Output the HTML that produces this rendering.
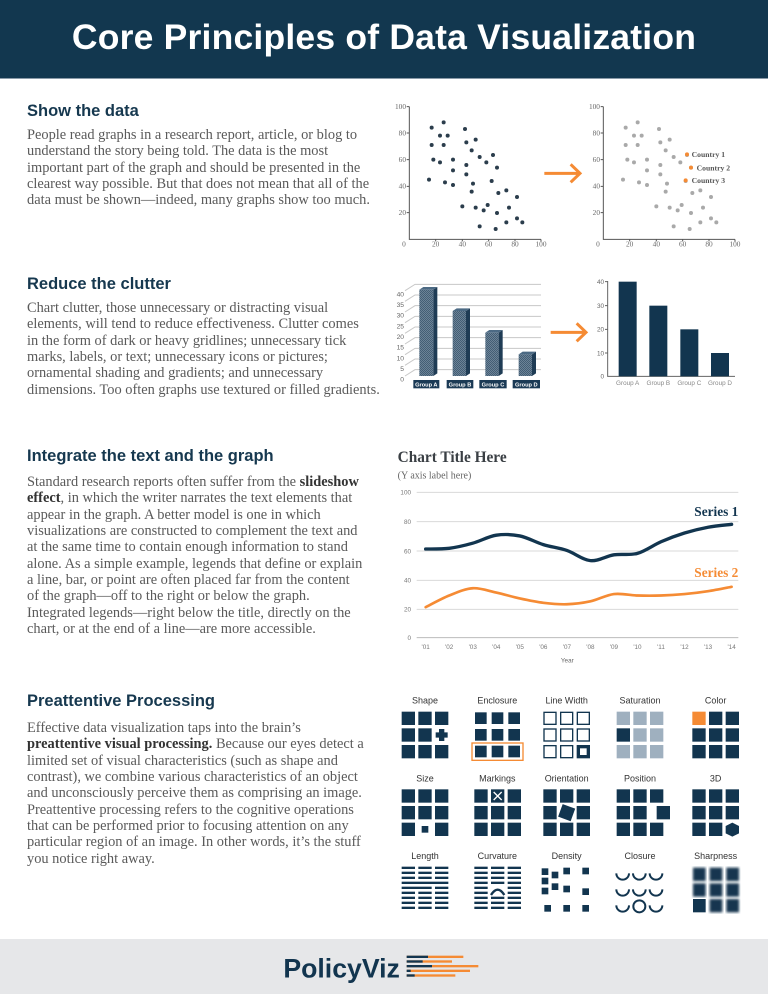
<!DOCTYPE html>
<html><head><meta charset="utf-8">
<style>
*{margin:0;padding:0;box-sizing:border-box}
body{width:768px;height:994px;position:relative;background:#fff;overflow:hidden;font-family:"Liberation Sans",sans-serif}
#hdr{position:absolute;left:0;top:0;width:768px;height:79px;background:#12374f;border-bottom:1px solid #8a9aa8}
#hdr div{position:absolute;left:0;width:768px;top:17px;text-align:center;color:#fff;font-weight:bold;font-size:35.5px;letter-spacing:0.2px}
.h{position:absolute;left:27px;color:#16384f;font-weight:bold;font-size:16.5px;white-space:nowrap}
.p{position:absolute;left:27px;color:#5a5a5a;font-family:"Liberation Serif",serif;font-size:14.4px;line-height:16.35px;white-space:nowrap}
.p b{color:#333}
#ftr{position:absolute;left:0;top:939px;width:768px;height:55px;background:#e6e7e9}
svg{position:absolute;left:0;top:0}
</style></head><body>
<div id="hdr"><div>Core Principles of Data Visualization</div></div>

<div class="h" style="top:102px">Show the data</div>
<div class="p" style="top:127px">People read graphs in a research report, article, or blog to<br>understand the story being told. The data is the most<br>important part of the graph and should be presented in the<br>clearest way possible. But that does not mean that all of the<br>data must be shown—indeed, many graphs show too much.</div>

<div class="h" style="top:275px">Reduce the clutter</div>
<div class="p" style="top:300px">Chart clutter, those unnecessary or distracting visual<br>elements, will tend to reduce effectiveness. Clutter comes<br>in the form of dark or heavy gridlines; unnecessary tick<br>marks, labels, or text; unnecessary icons or pictures;<br>ornamental shading and gradients; and unnecessary<br>dimensions. Too often graphs use textured or filled gradients.</div>

<div class="h" style="top:447px">Integrate the text and the graph</div>
<div class="p" style="top:474px">Standard research reports often suffer from the <b>slideshow</b><br><b>effect</b>, in which the writer narrates the text elements that<br>appear in the graph. A better model is one in which<br>visualizations are constructed to complement the text and<br>at the same time to contain enough information to stand<br>alone. As a simple example, legends that define or explain<br>a line, bar, or point are often placed far from the content<br>of the graph—off to the right or below the graph.<br>Integrated legends—right below the title, directly on the<br>chart, or at the end of a line—are more accessible.</div>

<div class="h" style="top:692px">Preattentive Processing</div>
<div class="p" style="top:720px">Effective data visualization taps into the brain’s<br><b>preattentive visual processing.</b> Because our eyes detect a<br>limited set of visual characteristics (such as shape and<br>contrast), we combine various characteristics of an object<br>and unconsciously perceive them as comprising an image.<br>Preattentive processing refers to the cognitive operations<br>that can be performed prior to focusing attention on any<br>particular region of an image. In other words, it’s the stuff<br>you notice right away.</div>

<div id="ftr"></div>

<svg width="768" height="994" viewBox="0 0 768 994">
<defs>
<pattern id="hat" width="6" height="6" patternUnits="userSpaceOnUse"><rect width="6" height="6" fill="#7f93a5"/><path d="M0,6L6,0M-1,1L1,-1M5,7L7,5" stroke="#2d4a63" stroke-width="2"/></pattern>
<filter id="bl"><feGaussianBlur stdDeviation="4"/></filter>
</defs>

<g transform="translate(380,95) scale(0.33333)" font-family="Liberation Serif,serif" font-size="22" fill="#666">
 <g>
  <path d="M88,35V433H483" fill="none" stroke="#555" stroke-width="3"/>
  <path d="M80,35H88M80,114H88M80,194H88M80,274H88M80,353H88M167,433v6M247,433v6M326,433v6M405,433v6M483,433v6" stroke="#555" stroke-width="3"/>
 </g>
 <g text-anchor="end"><text x="78" y="42">100</text><text x="78" y="121">80</text><text x="78" y="201">60</text><text x="78" y="281">40</text><text x="78" y="360">20</text></g>
 <g text-anchor="middle"><text x="72" y="455">0</text><text x="167" y="455">20</text><text x="247" y="455">40</text><text x="326" y="455">60</text><text x="405" y="455">80</text><text x="483" y="455">100</text></g>
 <g transform="translate(582,0)">
  <path d="M88,35V433H483" fill="none" stroke="#555" stroke-width="3"/>
  <path d="M80,35H88M80,114H88M80,194H88M80,274H88M80,353H88M167,433v6M247,433v6M326,433v6M405,433v6M483,433v6" stroke="#555" stroke-width="3"/>
  <g text-anchor="end"><text x="78" y="42">100</text><text x="78" y="121">80</text><text x="78" y="201">60</text><text x="78" y="281">40</text><text x="78" y="360">20</text></g>
  <g text-anchor="middle"><text x="72" y="455">0</text><text x="167" y="455">20</text><text x="247" y="455">40</text><text x="326" y="455">60</text><text x="405" y="455">80</text><text x="483" y="455">100</text></g>
 </g>
 <g id="pts1" fill="#2b3d4c"></g>
 <g id="pts2" fill="#a9a9a9"></g>
 <path d="M493,235H600M572,208L600,235L572,262" fill="none" stroke="#f58b34" stroke-width="9"/>
 <g fill="#f58b34"><circle cx="921" cy="178" r="6"/><circle cx="933" cy="218" r="6"/><circle cx="917" cy="256" r="6"/></g>
 <g font-weight="bold" font-size="23" fill="#555"><text x="935" y="186">Country 1</text><text x="950" y="226">Country 2</text><text x="935" y="264">Country 3</text></g>
</g>

<g transform="translate(380,275) scale(0.33333)" font-family="Liberation Sans,sans-serif">
 <g stroke="#c8c8c8" stroke-width="3" fill="none">
  <path d="M75,303L105,284H483M75,271L105,252H483M75,239L105,220H483M75,207L105,188H483M75,175L105,156H483M75,143L105,124H483M75,111L105,92H483M75,79L105,60H483M75,47L105,28H483"/>
 </g>
 <g font-size="20" fill="#666" text-anchor="end"><text x="72" y="320">0</text><text x="72" y="288">5</text><text x="72" y="256">10</text><text x="72" y="224">15</text><text x="72" y="192">20</text><text x="72" y="160">25</text><text x="72" y="128">30</text><text x="72" y="96">35</text><text x="72" y="64">40</text></g>
 <g>
  <rect x="118" y="44" width="42" height="259" fill="url(#hat)"/><path d="M160,44l12,-8v259l-12,8z" fill="#1f3c55"/><path d="M118,44l12,-8h42l-12,8z" fill="#4c6a84"/>
  <rect x="218" y="108" width="40" height="195" fill="url(#hat)"/><path d="M258,108l12,-8v195l-12,8z" fill="#1f3c55"/><path d="M218,108l12,-8h40l-12,8z" fill="#4c6a84"/>
  <rect x="316" y="173" width="40" height="130" fill="url(#hat)"/><path d="M356,173l12,-8v130l-12,8z" fill="#1f3c55"/><path d="M316,173l12,-8h40l-12,8z" fill="#4c6a84"/>
  <rect x="416" y="238" width="40" height="65" fill="url(#hat)"/><path d="M456,238l12,-8v65l-12,8z" fill="#1f3c55"/><path d="M416,238l12,-8h40l-12,8z" fill="#4c6a84"/>
 </g>
 <g fill="#1b3a55"><rect x="100" y="315" width="78" height="25"/><rect x="200" y="315" width="80" height="25"/><rect x="298" y="315" width="82" height="25"/><rect x="398" y="315" width="82" height="25"/></g>
 <g fill="#fff" font-size="17" font-weight="bold" text-anchor="middle"><text x="139" y="334">Group A</text><text x="240" y="334">Group B</text><text x="339" y="334">Group C</text><text x="439" y="334">Group D</text></g>
 <path d="M512,172H618M590,145L618,172L590,199" fill="none" stroke="#f58b34" stroke-width="9"/>
 <path d="M683,18V304H1065" fill="none" stroke="#666" stroke-width="3"/>
 <path d="M675,20H683M675,92H683M675,163H683M675,234H683" stroke="#666" stroke-width="3"/>
 <g font-size="19" fill="#666" text-anchor="end"><text x="672" y="27">40</text><text x="672" y="99">30</text><text x="672" y="170">20</text><text x="672" y="241">10</text><text x="672" y="311">0</text></g>
 <g fill="#12354f"><rect x="716" y="20" width="54" height="284"/><rect x="808" y="92" width="54" height="212"/><rect x="901" y="163" width="54" height="141"/><rect x="993" y="234" width="54" height="70"/></g>
 <g font-size="19" fill="#888" text-anchor="middle"><text x="743" y="330">Group A</text><text x="835" y="330">Group B</text><text x="928" y="330">Group C</text><text x="1020" y="330">Group D</text></g>
</g>

<g transform="translate(385,440) scale(0.33333)">
 <text x="38" y="66" font-family="Liberation Serif,serif" font-weight="bold" font-size="46" fill="#3a3f44">Chart Title Here</text>
 <text x="38" y="116" font-family="Liberation Serif,serif" font-size="30" fill="#666">(Y axis label here)</text>
 <g stroke="#d9d9d9" stroke-width="3"><path d="M95,157H1060M95,245H1060M95,333H1060M95,421H1060M95,508H1060"/></g>
 <path d="M95,593H1060" stroke="#bbb" stroke-width="3"/>
 <g font-family="Liberation Sans,sans-serif" font-size="19" fill="#777" text-anchor="end"><text x="78" y="164">100</text><text x="78" y="252">80</text><text x="78" y="340">60</text><text x="78" y="428">40</text><text x="78" y="515">20</text><text x="78" y="600">0</text></g>
 <g id="xl" font-family="Liberation Sans,sans-serif" font-size="19" fill="#777" text-anchor="middle"></g>
 <text x="547" y="668" font-family="Liberation Sans,sans-serif" font-size="19" fill="#666" text-anchor="middle">Year</text>
 <path id="s1" fill="none" stroke="#12354f" stroke-width="10" stroke-linecap="round"/>
 <path id="s2" fill="none" stroke="#f58b34" stroke-width="8" stroke-linecap="round"/>
 <text x="1060" y="228" font-family="Liberation Serif,serif" font-weight="bold" font-size="40" fill="#12354f" text-anchor="end">Series 1</text>
 <text x="1060" y="411" font-family="Liberation Serif,serif" font-weight="bold" font-size="40" fill="#f58b34" text-anchor="end">Series 2</text>
</g>

<g transform="translate(385,685) scale(0.33333)" font-family="Liberation Sans,sans-serif" font-size="27" fill="#333" text-anchor="middle">
 <text x="120" y="56">Shape</text><text x="337" y="56">Enclosure</text><text x="545" y="56">Line Width</text><text x="765" y="56">Saturation</text><text x="992" y="56">Color</text>
 <text x="120" y="289">Size</text><text x="337" y="289">Markings</text><text x="545" y="289">Orientation</text><text x="765" y="289">Position</text><text x="992" y="289">3D</text>
 <text x="120" y="522">Length</text><text x="337" y="522">Curvature</text><text x="545" y="522">Density</text><text x="765" y="522">Closure</text><text x="992" y="522">Sharpness</text>
 <g id="icons"></g>
</g>

<g transform="translate(250,935) scale(0.33333)">
 <text x="100" y="128" font-family="Liberation Sans,sans-serif" font-weight="bold" font-size="80" fill="#12354f">PolicyViz</text>
 <g fill="#f58b34"><rect x="470" y="62" width="170" height="7"/><rect x="470" y="76" width="136" height="7"/><rect x="470" y="90" width="215" height="7"/><rect x="470" y="104" width="190" height="7"/><rect x="470" y="118" width="146" height="7"/></g>
 <g fill="#12354f"><rect x="470" y="62" width="64" height="7"/><rect x="470" y="76" width="48" height="7"/><rect x="470" y="90" width="76" height="7"/><rect x="470" y="104" width="12" height="7"/><rect x="470" y="118" width="24" height="7"/></g>
</g>
</svg>

<script>
var NS="http://www.w3.org/2000/svg";
function el(p,t,a){var e=document.createElementNS(NS,t);for(var k in a)e.setAttribute(k,a[k]);p.appendChild(e);return e;}
var P=[[155,98],[191,82],[255,102],[180,122],[203,122],[155,150],[191,150],[259,142],[287,134],[275,166],[160,194],[180,202],[219,194],[299,186],[319,202],[339,180],[351,218],[259,210],[219,226],[259,238],[147,254],[195,262],[219,270],[279,266],[275,290],[335,258],[355,294],[379,286],[411,306],[247,334],[287,338],[323,330],[311,346],[351,354],[387,338],[299,394],[347,402],[379,382],[411,370],[427,382]];
var g1=document.getElementById("pts1"),g2=document.getElementById("pts2");
P.forEach(function(p){el(g1,"circle",{cx:p[0],cy:p[1],r:6});el(g2,"circle",{cx:p[0]+582,cy:p[1],r:6});});
function X(i){return 122+i*70.6}function Y(v){return 593-v*4.36}
var s1=[61,61.5,65,70.5,70,64,60,53,57,58,66,72,76,78],s2=[21,29,34,31,27,24,23,25,30,29,29,30,32,35];
function cr(d){var pts=d.map(function(v,i){return[X(i),Y(v)]});var s="M"+pts[0];for(var i=0;i<pts.length-1;i++){var p0=pts[i-1]||pts[i],p1=pts[i],p2=pts[i+1],p3=pts[i+2]||p2;var c1=[p1[0]+(p2[0]-p0[0])/6,p1[1]+(p2[1]-p0[1])/6],c2=[p2[0]-(p3[0]-p1[0])/6,p2[1]-(p3[1]-p1[1])/6];s+="C"+c1+" "+c2+" "+p2;}return s;}
document.getElementById("s1").setAttribute("d",cr(s1));
document.getElementById("s2").setAttribute("d",cr(s2));
var xl=document.getElementById("xl");
for(var i=0;i<14;i++){var t=el(xl,"text",{x:X(i),y:627});t.textContent="'"+("0"+(i+1)).slice(-2);}
var ic=document.getElementById("icons"),N="#12354f",O="#f58b34";
var cols=[50,268,475,695,922];
function grid(x0,y0,f){for(var r=0;r<3;r++)for(var c=0;c<3;c++)f(r,c,x0+c*50,y0+r*50);}
var R1=80,R2=313;
grid(cols[0],R1,function(r,c,x,y){if(r==1&&c==2){el(ic,"path",{d:"M"+(x+12)+","+(y+2)+"h16v10h10v16h-10v10h-16v-10h-10v-16h10z",fill:N});}else el(ic,"rect",{x:x,y:y,width:40,height:40,fill:N});});
grid(cols[1],R1,function(r,c,x,y){el(ic,"rect",{x:x+2,y:y+2,width:35,height:35,fill:N});});
el(ic,"rect",{x:261,y:174,width:153,height:52,fill:"none",stroke:O,"stroke-width":4});
grid(cols[2],R1,function(r,c,x,y){var w=(r==2&&c==2)?10:4;el(ic,"rect",{x:x+w/2,y:y+w/2,width:40-w,height:40-w,fill:"#fff",stroke:N,"stroke-width":w});});
grid(cols[3],R1,function(r,c,x,y){el(ic,"rect",{x:x,y:y,width:40,height:40,fill:(r==1&&c==0)?N:"#9fb0bf"});});
grid(cols[4],R1,function(r,c,x,y){el(ic,"rect",{x:x,y:y,width:40,height:40,fill:(r==0&&c==0)?O:N});});
grid(cols[0],R2,function(r,c,x,y){if(r==2&&c==1)el(ic,"rect",{x:x+10,y:y+10,width:20,height:20,fill:N});else el(ic,"rect",{x:x,y:y,width:40,height:40,fill:N});});
grid(cols[1],R2,function(r,c,x,y){el(ic,"rect",{x:x,y:y,width:40,height:40,fill:N});if(r==0&&c==1)el(ic,"path",{d:"M"+(x+8)+","+(y+8)+"l24,24M"+(x+32)+","+(y+8)+"l-24,24",stroke:"#fff","stroke-width":4});});
grid(cols[2],R2,function(r,c,x,y){var a={x:x,y:y,width:40,height:40,fill:N};if(r==1&&c==1)a.transform="rotate(20 "+(x+20)+" "+(y+20)+")";el(ic,"rect",a);});
grid(cols[3],R2,function(r,c,x,y){if(r==1&&c==2)x+=20;el(ic,"rect",{x:x,y:y,width:40,height:40,fill:N});});
grid(cols[4],R2,function(r,c,x,y){if(r==2&&c==2){el(ic,"polygon",{points:[x+20,y,x+40,y+10,x+40,y+32,x+20,y+42,x,y+32,x,y+10].join(" "),fill:N});}else el(ic,"rect",{x:x,y:y,width:40,height:40,fill:N});});
for(var k=0;k<9;k++){var y=545+k*15;var x0=cols[0];
 if(k==4){el(ic,"rect",{x:x0,y:y,width:90,height:7,fill:N});el(ic,"rect",{x:x0+100,y:y,width:40,height:7,fill:N});}
 else if(k==3){el(ic,"rect",{x:x0,y:y,width:140,height:7,fill:N});}
 else for(var c=0;c<3;c++)el(ic,"rect",{x:x0+c*50,y:y,width:40,height:7,fill:N});}
for(var k=0;k<9;k++){var y=545+k*15;var x0=cols[1];for(var c=0;c<3;c++){if(c==1&&(k==4||k==5))continue;el(ic,"rect",{x:x0+c*50,y:y,width:40,height:7,fill:N});}}
el(ic,"path",{d:"M318,630Q338,598 358,630",fill:"none",stroke:N,"stroke-width":7});
[[470,550],[500,560],[535,548],[592,548],[470,578],[500,595],[470,608],[535,602],[592,610],[478,660],[535,660],[592,660]].forEach(function(p){el(ic,"rect",{x:p[0],y:p[1],width:20,height:20,fill:N});});
for(var r=0;r<3;r++)for(var c=0;c<3;c++){var cx=713+c*50,cy=565+r*48;if(r==2&&c==1)el(ic,"circle",{cx:cx,cy:cy+3,r:18,fill:"none",stroke:N,"stroke-width":6});else el(ic,"path",{d:"M"+(cx-19)+","+cy+"A19,19 0 0 0 "+(cx+19)+","+cy,fill:"none",stroke:N,"stroke-width":6});}
grid(cols[4],548,function(r,c,x,y){var a={x:x+2,y:548+r*47,width:38,height:40,fill:N};if(!(r==2&&c==0))a.filter="url(#bl)";el(ic,"rect",a);});
</script>
</body></html>
